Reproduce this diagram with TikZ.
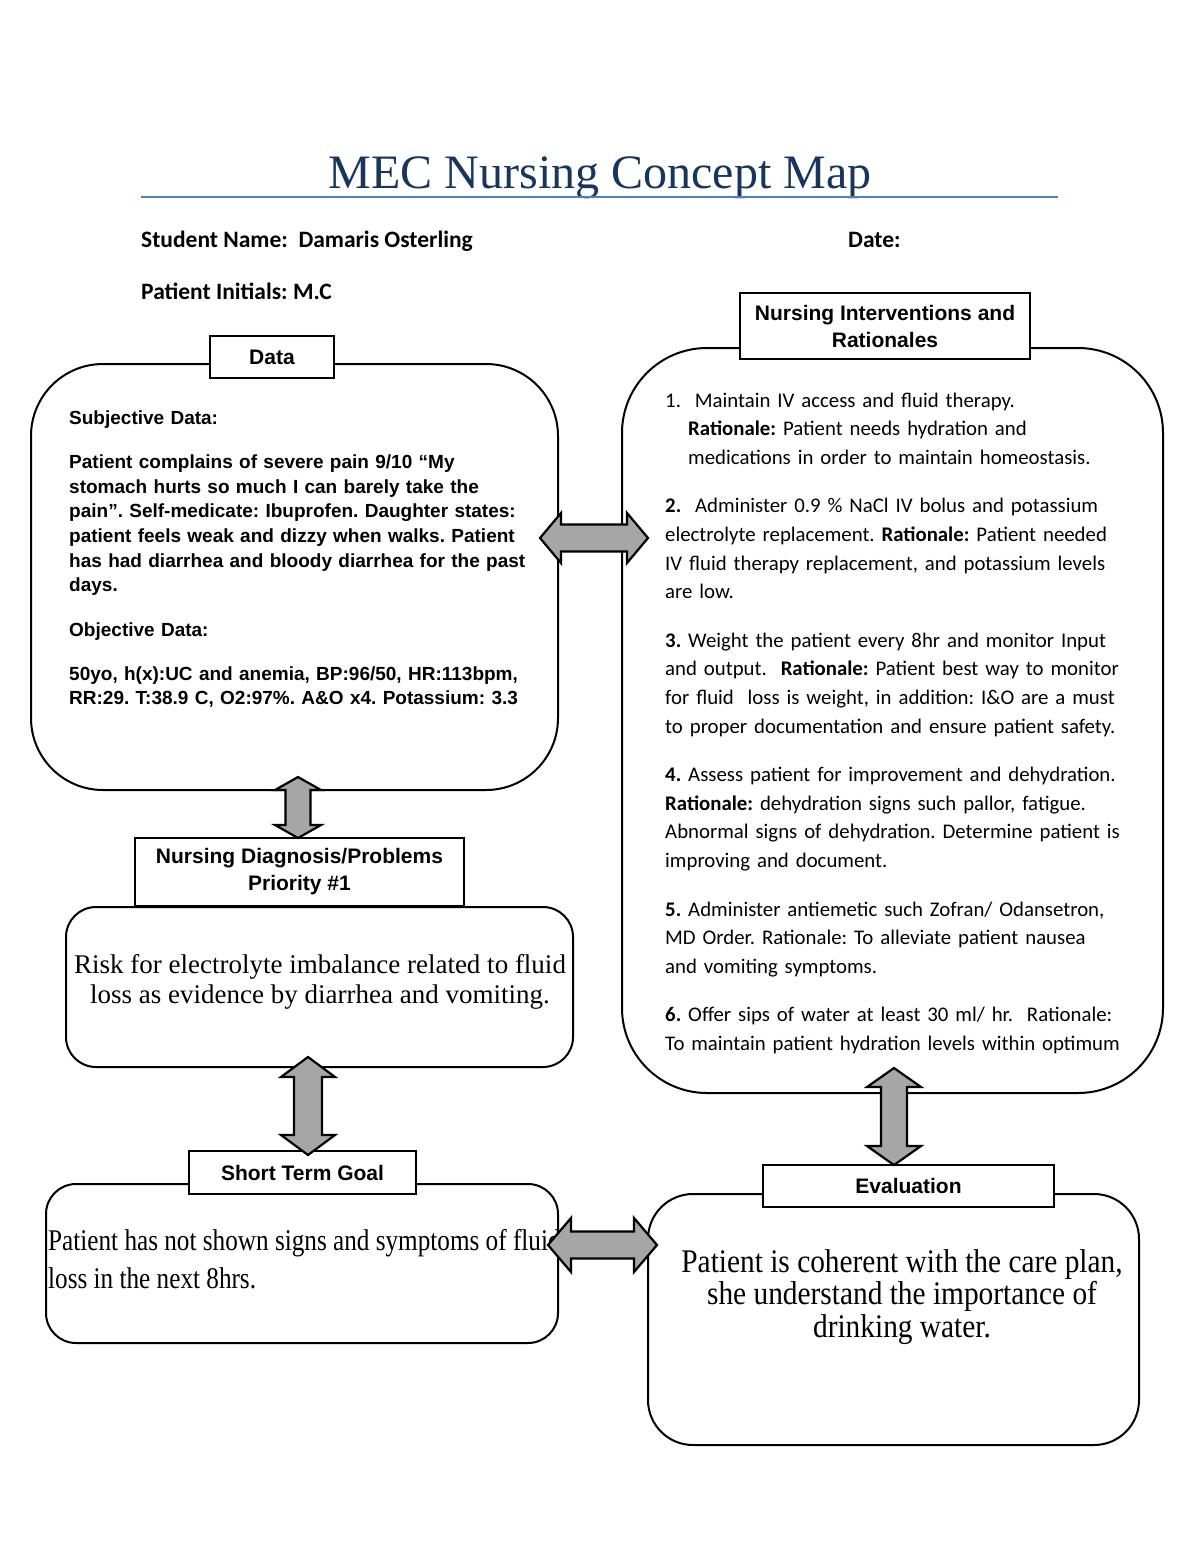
\documentclass[tikz,border=0pt]{standalone}
\usepackage{fontspec}
\setmainfont{Liberation Serif}
\newfontfamily\calibri{Carlito}
\newfontfamily\arial{Liberation Sans}
\newfontfamily\condserif[FakeStretch=0.84]{Liberation Serif}
\newfontfamily\evalserif[FakeStretch=0.89]{Liberation Serif}
\usetikzlibrary{calc}
\definecolor{titleblue}{RGB}{23,54,93}
\definecolor{ruleblue}{RGB}{79,129,189}
\definecolor{arrowgray}{RGB}{166,166,166}

\tikzset{
  bigbox/.style={draw, line width=2pt, fill=white, inner sep=0pt},
  labelbox/.style={draw, line width=2pt, fill=white, inner sep=0pt, align=center,
    font=\arial\bfseries\fontsize{21}{27}\selectfont},
  blockarrow/.style={draw, line width=2.2pt, fill=arrowgray, line join=miter}
}

% block arrows: from, to, shaft half, head half, head length
\newcommand{\harrow}[5]{%
  \draw[blockarrow] let \p1=(#1), \p2=(#2) in
    (\x1,\y1) -- (\x1+#5,\y1+#4) -- (\x1+#5,\y1+#3) -- (\x2-#5,\y1+#3)
    -- (\x2-#5,\y1+#4) -- (\x2,\y1) -- (\x2-#5,\y1-#4) -- (\x2-#5,\y1-#3)
    -- (\x1+#5,\y1-#3) -- (\x1+#5,\y1-#4) -- cycle;}
\newcommand{\varrow}[5]{%
  \draw[blockarrow] let \p1=(#1), \p2=(#2) in
    (\x1,\y1) -- (\x1+#4,\y1-#5) -- (\x1+#3,\y1-#5) -- (\x1+#3,\y2+#5)
    -- (\x1+#4,\y2+#5) -- (\x1,\y2) -- (\x1-#4,\y2+#5) -- (\x1-#3,\y2+#5)
    -- (\x1-#3,\y1-#5) -- (\x1-#4,\y1-#5) -- cycle;}

\begin{document}
\frenchspacing
\begin{tikzpicture}[x=1pt,y=-1pt]
  \fill[white] (0,0) rectangle (1200,1553);

  % heading
  \node[anchor=base, inner sep=0pt, text=titleblue,
    font=\fontsize{48}{52}\selectfont] (title) at (600,188) {MEC Nursing Concept Map};
  \draw[ruleblue, line width=2pt] (141,197) -- (1058,197);
  \node[anchor=base west, inner sep=0pt, font=\calibri\bfseries\fontsize{23.5}{28}\selectfont]
    (student) at (141,247) {Student Name:\ \ Damaris Osterling};
  \node[anchor=base west, inner sep=0pt, font=\calibri\bfseries\fontsize{23.5}{28}\selectfont]
    (date) at (848,247) {Date:};
  \node[anchor=base west, inner sep=0pt, font=\calibri\bfseries\fontsize{23.5}{28}\selectfont]
    (initials) at (141,299) {Patient Initials: M.C};

  % boxes
  \node[bigbox, minimum width=527pt, minimum height=426pt, rounded corners=72pt]
    (data) at (294.5,577) {};
  \node[bigbox, minimum width=541pt, minimum height=745pt, rounded corners=85pt]
    (nir) at (892.5,720.5) {};
  \node[bigbox, minimum width=507pt, minimum height=160pt, rounded corners=30pt]
    (diag) at (319.5,987) {};
  \node[bigbox, minimum width=512pt, minimum height=159pt, rounded corners=30pt]
    (goal) at (302,1263.5) {};
  \node[bigbox, minimum width=491pt, minimum height=251pt, rounded corners=45pt]
    (eval) at (893.5,1319.5) {};

  % labels
  \node[labelbox, minimum width=124pt, minimum height=42pt] (datalabel) at (272,357) {Data};
  \node[labelbox, minimum width=290pt, minimum height=66pt] (nirlabel) at (885,326)
    {Nursing Interventions and\\Rationales};
  \node[labelbox, minimum width=329pt, minimum height=68pt] (diaglabel) at (299.5,872)
    {Nursing Diagnosis/Problems\\Priority \#1};
  \node[labelbox, minimum width=227pt, minimum height=43pt] (goallabel) at (302.5,1172.5)
    {Short Term Goal};
  \node[labelbox, minimum width=291pt, minimum height=42pt] (evallabel) at (908.5,1186)
    {Evaluation};

  % texts
  \node[anchor=base west, inner sep=0pt, text width=490pt, align=left,
    font=\arial\bfseries\fontsize{19}{24.6}\selectfont] (datatext) at (69,424)
    {Subjective Data:\\[20pt]
     Patient complains of severe pain 9/10 “My\\
     stomach hurts so much I can barely take the\\
     pain”. Self-medicate: Ibuprofen. Daughter states:\\
     patient feels weak and dizzy when walks. Patient\\
     has had diarrhea and bloody diarrhea for the past\\
     days.\\[20pt]
     Objective Data:\\[19.5pt]
     50yo, h(x):UC and anemia, BP:96/50, HR:113bpm,\\
     RR:29. T:38.9 C, O2:97\%. A\&O x4. Potassium: 3.3};
  \node[anchor=base west, inner sep=0pt, text width=490pt, align=left,
    font=\calibri\fontsize{20.8}{28.6}\selectfont] (nirtext) at (665,407)
    {1.\ \ Maintain IV access and fluid therapy.\\
     \hspace*{23pt}\textbf{Rationale:} Patient needs hydration and\\
     \hspace*{23pt}medications in order to maintain homeostasis.\\[20pt]
     \textbf{2.}\ \ Administer 0.9 \% NaCl IV bolus and potassium\\
     electrolyte replacement. \textbf{Rationale:} Patient needed\\
     IV fluid therapy replacement, and potassium levels\\
     are low.\\[20pt]
     \textbf{3.} Weight the patient every 8hr and monitor Input\\
     and output.\ \ \textbf{Rationale:} Patient best way to monitor\\
     for fluid\ \ loss is weight, in addition: I\&O are a must\\
     to proper documentation and ensure patient safety.\\[20pt]
     \textbf{4.} Assess patient for improvement and dehydration.\\
     \textbf{Rationale:} dehydration signs such pallor, fatigue.\\
     Abnormal signs of dehydration. Determine patient is\\
     improving and document.\\[20pt]
     \textbf{5.} Administer antiemetic such Zofran/ Odansetron,\\
     MD Order. Rationale: To alleviate patient nausea\\
     and vomiting symptoms.\\[20pt]
     \textbf{6.} Offer sips of water at least 30 ml/ hr.\ \ Rationale:\\
     To maintain patient hydration levels within optimum};
  \node[anchor=base, inner sep=0pt, align=center,
    font=\fontsize{27}{30}\selectfont] (diagtext) at (320,1003)
    {Risk for electrolyte imbalance related to fluid\\
     loss as evidence by diarrhea and vomiting.};
  \node[anchor=base west, inner sep=0pt, align=left,
    font=\condserif\fontsize{30}{38}\selectfont] (goaltext) at (48,1288)
    {Patient has not shown signs and symptoms of fluid\\
     loss in the next 8hrs.};
  \node[anchor=base, inner sep=0pt, align=center,
    font=\evalserif\fontsize{33}{32.5}\selectfont] (evaltext) at (902,1337)
    {Patient is coherent with the care plan,\\
     she understand the importance of\\
     drinking water.};

  % connectors
  \coordinate (dataR) at (540,538);
  \coordinate (nirL) at (648,538);
  \coordinate (dataB) at (298,777);
  \coordinate (diagT) at (298,838);
  \coordinate (diagB) at (308,1057);
  \coordinate (goalT) at (308,1155);
  \coordinate (goalR) at (548,1245);
  \coordinate (evalL) at (657,1245);
  \coordinate (nirB) at (894,1068);
  \coordinate (evalT) at (894,1165);

  \harrow{dataR}{nirL}{13.5pt}{25pt}{21pt}
  \varrow{dataB}{diagT}{12.5pt}{23pt}{13pt}
  \varrow{diagB}{goalT}{14pt}{27pt}{20pt}
  \harrow{goalR}{evalL}{13.5pt}{27pt}{23pt}
  \varrow{nirB}{evalT}{13pt}{27pt}{19pt}
\end{tikzpicture}
\end{document}
